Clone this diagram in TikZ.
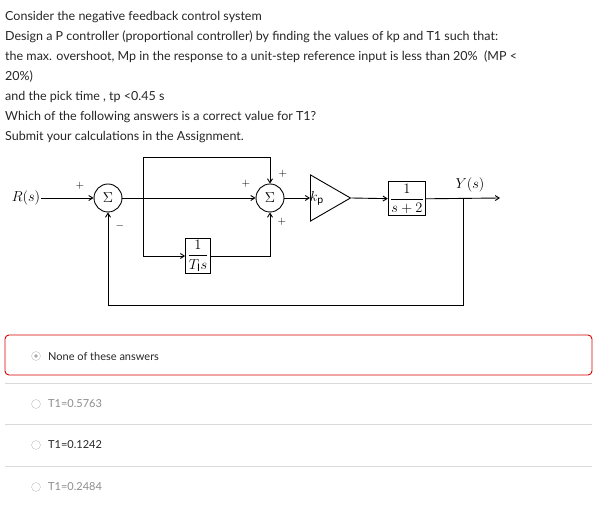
\documentclass[tikz,border=0pt]{standalone}
\usepackage{amsmath}
\usepackage{fontspec}
\setmainfont{Lato}
\usetikzlibrary{arrows.meta,shapes.geometric}
\begin{document}
\begin{tikzpicture}[x=1pt,y=-1pt,
  q/.style={anchor=west,inner sep=0,font=\fontsize{12.5}{14}\selectfont,text=black!85},
  sumc/.style={draw,circle,minimum size=28pt,inner sep=0,line width=0.9pt},
  blk/.style={draw,line width=1pt,inner sep=2pt},
  ln/.style={line width=0.9pt},
  arr/.style={ln,-{Straight Barb[length=4pt,width=5pt]}},
  sg/.style={font=\fontsize{11}{12}\selectfont,inner sep=0},
  opt/.style={anchor=west,inner sep=0,font=\fontsize{11}{12}\selectfont},
  radio/.style={draw=black!25,circle,minimum size=9pt,inner sep=0},
  sep/.style={draw=black!15,line width=0.7pt}]
\useasboundingbox (0,0) rectangle (600,510);
\node[q] (l1) at (5,17) {Consider the negative feedback control system};
\node[q] (l2) at (5,37) {Design a P controller (proportional controller) by finding the values of kp and T1 such that:};
\node[q] (l3) at (5,57) {the max. overshoot, Mp in the response to a unit-step reference input is less than 20\%\ \ (MP <};
\node[q] (l4) at (5,77) {20\%)};
\node[q] (l5) at (5,97) {and the pick time , tp <0.45 s};
\node[q] (l6) at (5,117) {Which of the following answers is a correct value for T1?};
\node[q] (l7) at (5,137) {Submit your calculations in the Assignment.};
% diagram
\begin{scope}[font=\fontsize{15}{16}\selectfont]
\node[inner sep=1pt] (R) at (26,198) {$R(s)$};
\node[sumc] (s1) at (108,198) {$\Sigma$};
\coordinate (b1) at (143,198);
\coordinate (t1) at (143,157);
\coordinate (u1) at (143,257);
\node[sumc] (s2) at (270,198) {$\Sigma$};
\node[draw,isosceles triangle,isosceles triangle apex angle=60,line width=0.9pt,minimum height=40pt,inner sep=0,anchor=west] (k) at (310,198) {};
\node at ([xshift=-7pt]k.center) {$k_{\mathrm{p}}$};
\node[blk] (g) at (407,199) {$\dfrac{1}{s+2}$};
\node[blk] (ti) at (198,256) {$\dfrac{1}{T_{\mathrm{I}}s}$};
\coordinate (yb) at (463,198);
\coordinate (yend) at (500,198);
\node (Y) at (470,185) {$Y(s)$};
\coordinate (f1) at (463,305);
\coordinate (f2) at (108,305);
\end{scope}
\draw[arr] (R) -- (s1);
\draw[arr] (s1) -- (s2);
\draw[arr] (b1) -- (t1) -| (s2);
\draw[arr] (b1) |- (ti);
\draw[arr] (ti) -| (s2);
\draw[arr] (s2) -- (k);
\draw[arr] (k.apex) -- (g);
\draw[arr] (g) -- (yend);
\draw[arr] (yb) -- (f1) -- (f2) -- (s1);
\node[sg] at (80,186) {$+$};
\node[sg] at (120,226) {$-$};
\node[sg] at (246,184) {$+$};
\node[sg] at (283,174) {$+$};
\node[sg] at (282,222) {$+$};
% answers
\draw[draw=red!85!black,line width=0.9pt,rounded corners=4pt] (5,335) rectangle (592,375);
\node[radio] (r1) at (36,356) {};
\fill[black!35] (r1) circle (1.8pt);
\node[opt,text=black!85] (a1) at (48,356) {None of these answers};
\draw[sep] (5,383) -- (592,383);
\node[radio] (r2) at (36,404) {};
\node[opt,text=black!45] (a2) at (48,404) {T1=0.5763};
\draw[sep] (5,424) -- (592,424);
\node[radio] (r3) at (36,445) {};
\node[opt,text=black!85] (a3) at (48,445) {T1=0.1242};
\draw[sep] (5,466) -- (592,466);
\node[radio] (r4) at (36,487) {};
\node[opt,text=black!45] (a4) at (48,487) {T1=0.2484};
\end{tikzpicture}
\end{document}
